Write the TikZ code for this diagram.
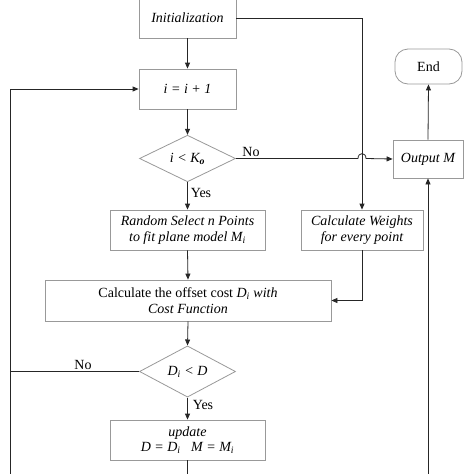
\documentclass[tikz,border=0pt]{standalone}
\usepackage{fontspec}
\setmainfont{Liberation Serif}
\usetikzlibrary{shapes.geometric,arrows.meta}
\tikzset{
  box/.style={draw=black!40, line width=0.8pt, inner sep=2pt, align=center, font=\fontsize{14}{15.5}\selectfont\itshape},
  dia/.style={draw=black!40, line width=0.8pt, diamond, inner sep=0pt, minimum width=96pt, minimum height=39pt, font=\fontsize{14}{15.5}\selectfont\itshape},
  arr/.style={draw=black!85, line width=0.8pt, -{Triangle[length=6pt,width=5pt]}},
  ln/.style={draw=black!85, line width=0.8pt},
  lbl/.style={font=\fontsize{14}{15.5}\selectfont}
}
\begin{document}
\begin{tikzpicture}[x=1pt,y=-1pt]
\useasboundingbox (0,0) rectangle (474,474);
\fill[white] (0,0) rectangle (474,474);
\node[box, minimum width=97pt, minimum height=40pt] (init) at (187.5,18) {Initialization};
\node[box, minimum width=97pt, minimum height=40pt] (inc) at (187.5,89) {i = i + 1};
\node[dia] (d1) at (187.5,158.5) {i < K\textsubscript{\textbf{o}}};
\node[box, minimum width=155pt, minimum height=40pt] (rand) at (187.5,230) {Random Select n Points\\to fit plane model M\textsubscript{i}};
\node[box, minimum width=122pt, minimum height=40pt] (wts) at (362,230) {Calculate Weights\\for every point};
\node[box, minimum width=286pt, minimum height=41pt, font=\fontsize{14}{15.5}\selectfont] (calc) at (188,300.5) {Calculate the offset cost \textit{D\textsubscript{i} with}\\\textit{Cost Function}};
\node[dia] (d2) at (187.5,371.5) {D\textsubscript{i} < D};
\node[box, minimum width=155pt, minimum height=40pt] (upd) at (187.5,440) {update\\D = D\textsubscript{i}~~ M = M\textsubscript{i}};
\node[box, minimum width=70pt, minimum height=38pt] (out) at (428,159) {Output M};
\node[box, rounded corners=13pt, minimum width=67pt, minimum height=35pt, font=\fontsize{14}{15.5}\selectfont] (end) at (428.5,66.5) {End};
\coordinate (botL) at (10,474);
\coordinate (botR) at (428,474);
\coordinate (botM) at (187.5,474);
\coordinate (jmpA) at (358,158.5);
\coordinate (jmpB) at (366,158.5);
\node[lbl] (no1) at (251,152) {No};
\node[lbl] (yes1) at (201,193) {Yes};
\node[lbl] (no2) at (83,365) {No};
\node[lbl] (yes2) at (203,405) {Yes};
\draw[arr] (init.south) -- (inc.north);
\draw[arr] (init.east) -| (wts.north);
\draw[arr] (botL) |- (inc.west);
\draw[arr] (inc.south) -- (d1.north);
\draw[arr] (d1.east) -- (jmpA) .. controls (358,152) and (366,152) .. (jmpB) -- (out.west);
\draw[arr] (out.north) -- (end.south);
\draw[arr] (botR) -- (out.south);
\draw[arr] (d1.south) -- (rand.north);
\draw[arr] (rand.south) -- (calc.north);
\draw[arr] (wts.south) |- (calc.east);
\draw[arr] (calc.south) -- (d2.north);
\draw[ln] (d2.west) -- (d2.west -| botL);
\draw[arr] (d2.south) -- (upd.north);
\draw[ln] (upd.south) -- (botM);
\end{tikzpicture}
\end{document}
